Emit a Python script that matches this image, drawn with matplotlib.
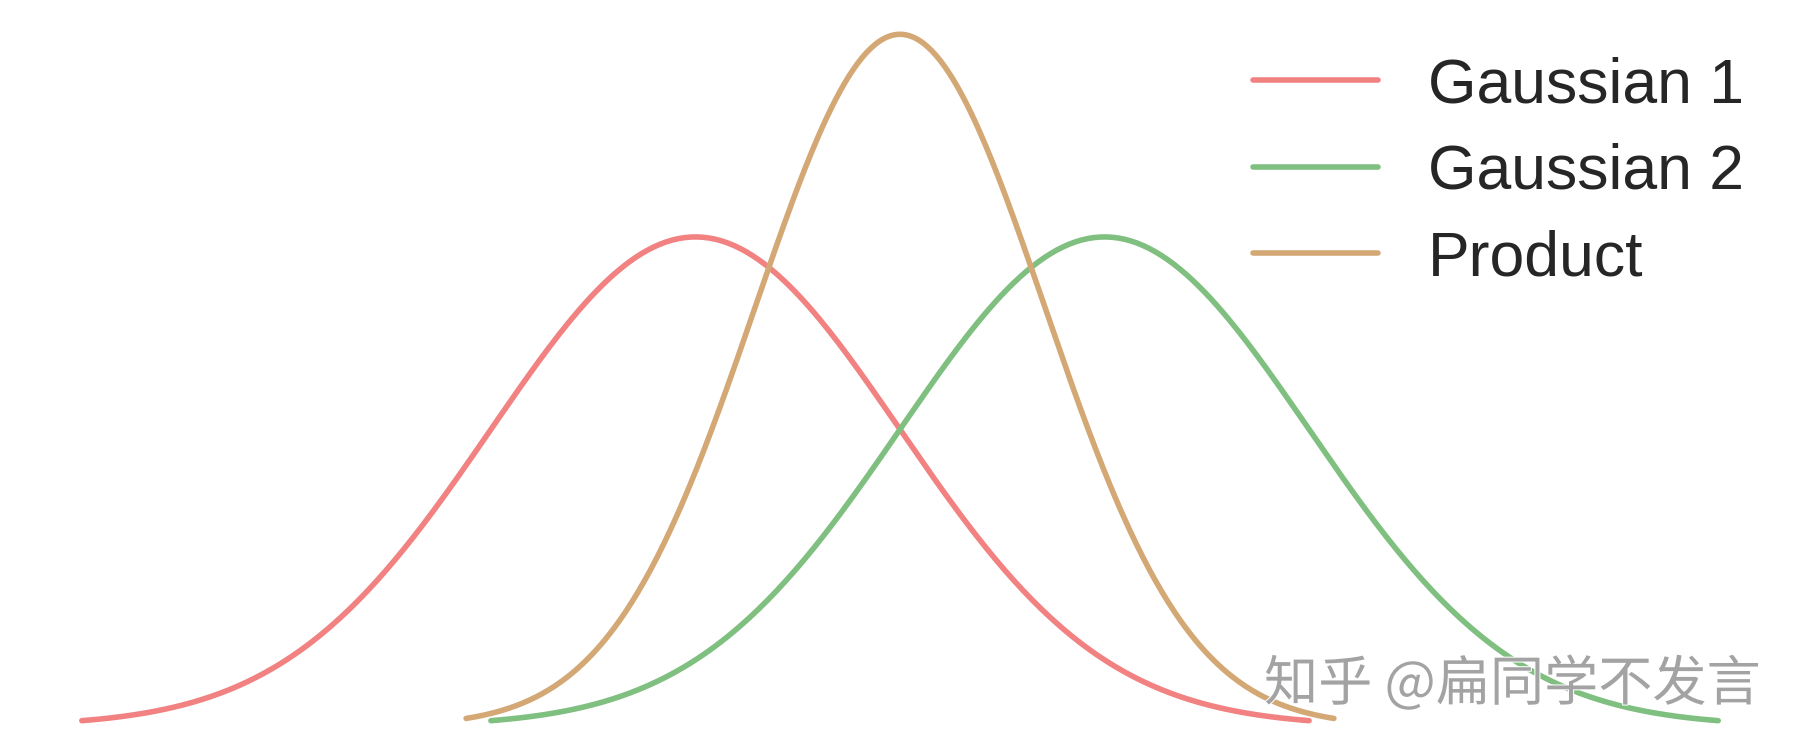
import matplotlib.pyplot as plt
import matplotlib.patheffects as pe
import numpy as np

# Gaussian parameters
labels = ["Gaussian 1", "Gaussian 2", "Product"]
means = [-1.0, 1.0, 0.0]
stds = [1.0, 1.0, 1.0 / np.sqrt(2)]
colors = ["#F28181", "#7FBF7F", "#D4A874"]
span = 3  # each curve drawn over mean +/- 3 std

plt.rcParams["font.family"] = ["Liberation Sans", "DejaVu Sans"]

fig = plt.figure(figsize=(18, 7.55), dpi=100)
ax = fig.add_axes([0, 0, 1, 1])

for lab, mu, sd, c in zip(labels, means, stds, colors):
    x = np.linspace(mu - span * sd, mu + span * sd, 400)
    y = np.exp(-0.5 * ((x - mu) / sd) ** 2) / (sd * np.sqrt(2 * np.pi))
    ax.plot(x, y, color=c, lw=4, label=lab, solid_capstyle="round")

ax.axis("off")
leg = ax.legend(loc="upper right", frameon=False, fontsize=45,
                labelcolor="#262626", labelspacing=0.44)

# watermark
ax.text(0.978, 0.093, "知乎 @扁同学不发言", transform=ax.transAxes,
        ha="right", va="center", fontsize=39, color="#a3a3a3",
        family=["Noto Sans CJK SC", "DejaVu Sans"], zorder=5,
        path_effects=[pe.withStroke(linewidth=1.5, foreground="white")])

fig.savefig("out.png", dpi=100)
